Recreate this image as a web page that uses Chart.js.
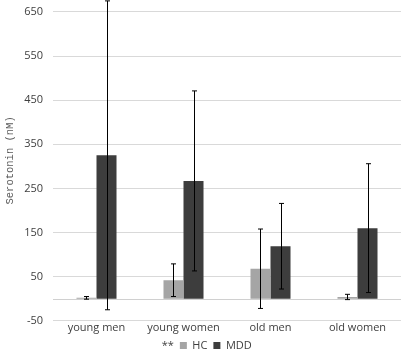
<!DOCTYPE html>
<html>
<head>
<meta charset="utf-8">
<script src="https://cdn.jsdelivr.net/npm/chart.js@4"></script>
<style>
html,body{margin:0;padding:0;background:#fff;}
#wrap{width:401px;height:349px;position:relative;}
</style>
</head>
<body>
<div id="wrap"><canvas id="c" width="401" height="349"></canvas></div>
<script>
const categories = ["young men", "young women", "old men", "old women"];
const hcValues = [2, 42, 68, 4];
const hcErrors = [3, 37, 90, 6];
const mddValues = [325, 267, 119, 160];
const mddErrors = [350, 204, 97, 146];
const yTicks = [-50, 50, 150, 250, 350, 450, 550, 650];
const legendNote = "**";

const errorBars = {
  id: 'errorBars',
  afterDatasetsDraw(chart) {
    const ctx = chart.ctx;
    const ys = chart.scales.y;
    const errs = [hcErrors, mddErrors];
    const vals = [hcValues, mddValues];
    ctx.save();
    ctx.strokeStyle = '#d0d0d0';
    ctx.lineWidth = 1;
    const y0 = Math.round(ys.getPixelForValue(0)) + 0.5;
    ctx.beginPath();
    ctx.moveTo(chart.chartArea.left, y0);
    ctx.lineTo(chart.chartArea.right, y0);
    ctx.stroke();
    ctx.strokeStyle = '#000';
    chart.data.datasets.forEach((ds, di) => {
      const meta = chart.getDatasetMeta(di);
      meta.data.forEach((bar, i) => {
        const v = vals[di][i], e = errs[di][i];
        const x = Math.round(bar.x) + 0.5;
        const yt = ys.getPixelForValue(v + e);
        const yb = ys.getPixelForValue(v - e);
        ctx.beginPath();
        ctx.moveTo(x, yt); ctx.lineTo(x, yb);
        ctx.moveTo(x - 2.5, yt); ctx.lineTo(x + 2.5, yt);
        ctx.moveTo(x - 2.5, yb); ctx.lineTo(x + 2.5, yb);
        ctx.stroke();
      });
    });
    ctx.restore();
  }
};

new Chart(document.getElementById('c'), {
  type: 'bar',
  data: {
    labels: categories,
    datasets: [
      { label: 'HC', data: hcValues, backgroundColor: '#a5a5a5', categoryPercentage: 0.46, barPercentage: 1 },
      { label: 'MDD', data: mddValues, backgroundColor: '#3d3d3d', categoryPercentage: 0.46, barPercentage: 1 }
    ]
  },
  options: {
    responsive: false,
    animation: false,
    layout: { padding: { top: 0, right: 0, bottom: -12, left: 0 } },
    plugins: {
      legend: {
        position: 'bottom',
        labels: {
          boxWidth: 7, boxHeight: 7, padding: 6,
          color: '#404040',
          font: { family: 'Open Sans', size: 11 },
          generateLabels(chart) {
            const items = Chart.defaults.plugins.legend.labels.generateLabels(chart);
            items.unshift({ text: legendNote, fillStyle: 'rgba(0,0,0,0)', strokeStyle: 'rgba(0,0,0,0)', lineWidth: 0, hidden: false, datasetIndex: -1, fontColor: '#404040' });
            return items;
          }
        }
      },
      tooltip: { enabled: false }
    },
    scales: {
      x: {
        grid: { display: false, drawTicks: false },
        border: { display: false },
        ticks: { color: '#404040', font: { family: 'Open Sans', size: 11 }, padding: 0, maxRotation: 0, autoSkip: false }
      },
      y: {
        min: -50,
        max: 677,
        afterBuildTicks(scale) { scale.ticks = yTicks.map(v => ({ value: v })); },
        afterFit(scale) { scale.width = 53; scale.paddingTop = 0; scale.paddingBottom = 0; },
        grid: { color: '#d9d9d9', drawTicks: false },
        border: { display: false },
        ticks: { color: '#404040', font: { family: 'Open Sans', size: 11 }, padding: 10 },
        title: {
          display: true,
          text: 'Serotonin (nM)',
          color: '#595959',
          font: { family: 'Liberation Mono', size: 10.5 },
          padding: { top: 4, bottom: 0 }
        }
      }
    }
  },
  plugins: [errorBars]
});
</script>
</body>
</html>
